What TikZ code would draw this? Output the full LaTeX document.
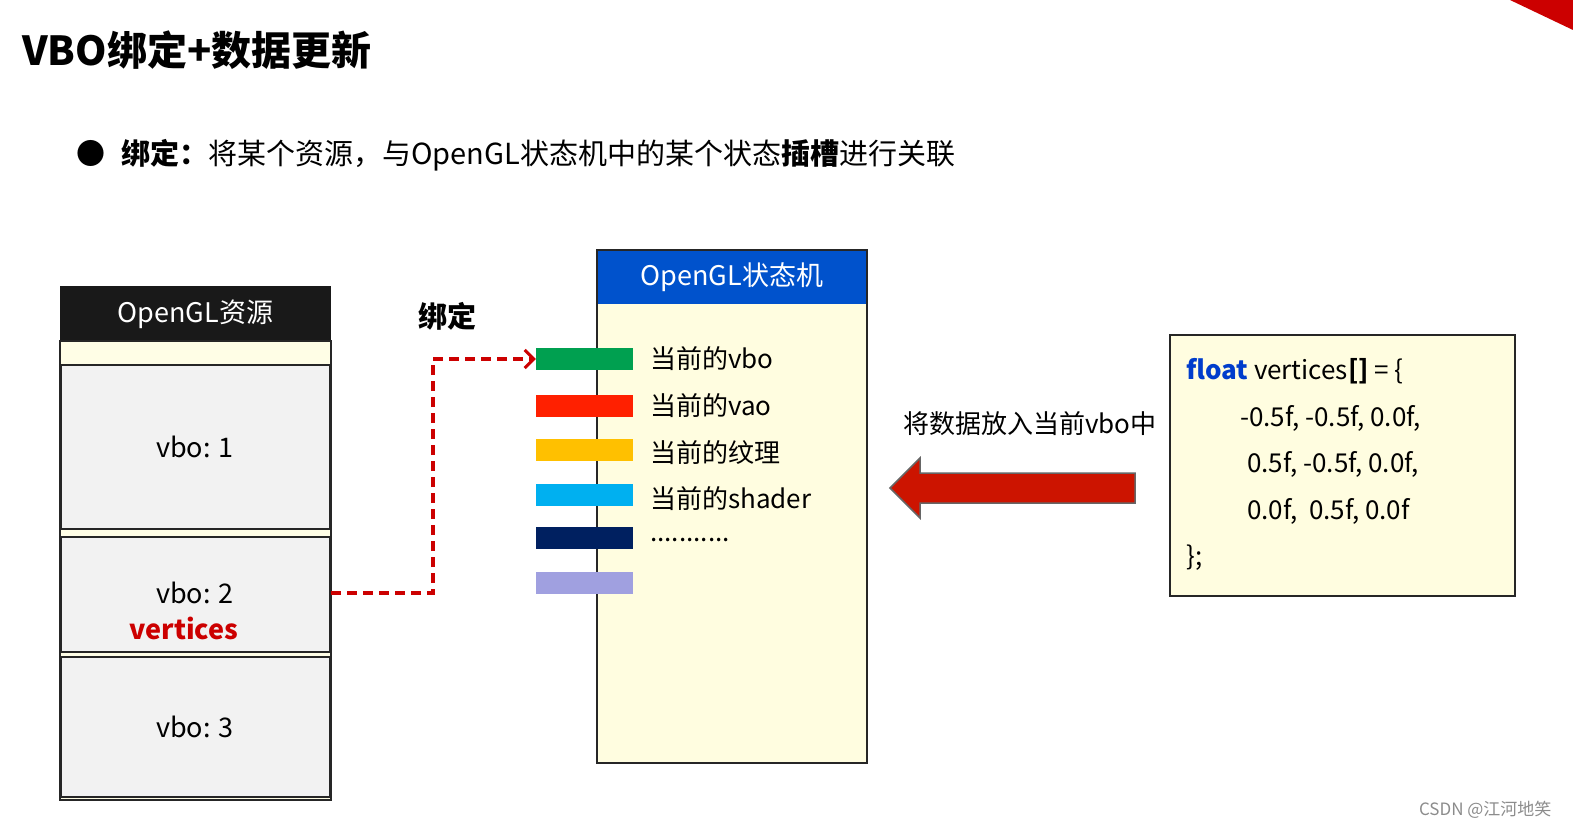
\documentclass[tikz,border=0pt]{standalone}
\usepackage{fontspec}
\usetikzlibrary{arrows.meta}
\setmainfont{Noto Sans CJK SC}
\begin{document}
\begin{tikzpicture}[x=1pt,y=-1pt,
  fs/.style={font=\fontsize{#1}{#1}\selectfont},
  cell/.style={draw=black!85,line width=1.5pt,fill=black!5},
  bar/.style={minimum width=97pt,minimum height=22pt,inner sep=0pt},
  lbl/.style={fs=26,anchor=west,inner sep=0pt},
  code/.style={fs=26,anchor=west,inner sep=0pt}]
\useasboundingbox (0,0) rectangle (1573,832);
\fill[white] (0,0) rectangle (1573,832);
\fill[red!80!black] (1510,0) -- (1573,0) -- (1573,30) -- cycle;
\node[font=\bfseries\fontsize{40}{40}\selectfont,anchor=west,inner sep=0pt] (title) at (22,50) {VBO绑定+数据更新};
\node[fs=29,anchor=west,inner sep=0pt] (bul) at (76,155) {●\hspace{16pt}\textbf{绑定：}将某个资源，与OpenGL状态机中的某个状态\textbf{插槽}进行关联};
% left box
\fill[black!90] (60,286) rectangle (331,341);
\node[fs=27,text=white] (reshead) at (195.5,314) {OpenGL资源};
\draw[black!85,line width=1.5pt,fill=yellow!10] (60,341) rectangle (331,800);
\draw[cell] (61,365) rectangle (330,529);
\draw[cell] (61,537) rectangle (330,652);
\draw[cell] (61,657) rectangle (330,797);
\node[fs=27] (v1) at (195,447) {vbo: 1};
\node[fs=27] (v2) at (195,593) {vbo: 2};
\node[text=red!80!black,font=\bfseries\fontsize{27}{27}\selectfont] (vert) at (184,628) {vertices};
\node[fs=27] (v3) at (195,727) {vbo: 3};
\coordinate (v2r) at (331,593);
\node[font=\bfseries\fontsize{29}{29}\selectfont] (bd) at (447,316) {绑定};
% state box
\draw[black!85,line width=1.5pt,fill=yellow!12] (597,250) rectangle (867,763);
\fill[blue!60!cyan!80!black] (598,251) rectangle (866,304);
\draw[black!85,line width=1.5pt] (597,250) rectangle (867,763);
\node[fs=27,text=white] (sthead) at (732,277) {OpenGL状态机};
\node[bar,fill={rgb,255:red,0;green,160;blue,80}] (b1) at (584.5,359) {};
\node[bar,fill={rgb,255:red,255;green,32;blue,0}] (b2) at (584.5,406) {};
\node[bar,fill={rgb,255:red,255;green,192;blue,0}] (b3) at (584.5,450) {};
\node[bar,fill={rgb,255:red,0;green,176;blue,240}] (b4) at (584.5,495) {};
\node[bar,fill={rgb,255:red,0;green,32;blue,96}] (b5) at (584.5,538) {};
\node[bar,fill={rgb,255:red,160;green,160;blue,224}] (b6) at (584.5,583) {};
\node[lbl] (l1) at (650,359) {当前的vbo};
\node[lbl] (l2) at (650,406) {当前的vao};
\node[lbl] (l3) at (650,453) {当前的纹理};
\node[lbl] (l4) at (650,499) {当前的shader};
\node[lbl] (l5) at (650,540) {...........};
\draw[red!80!black,line width=3.5pt,dash pattern=on 10pt off 6pt,-{Straight Barb[length=9pt,width=18pt,line width=3pt]}] (v2r) -- (433,593) -- (433,359) -- (b1.west);
% arrow
\node[fs=26] (put) at (1030,424) {将数据放入当前vbo中};
\draw[black!60,line width=1.5pt,fill={rgb,255:red,204;green,20;blue,0}] (1135,473) -- (920,473) -- (920,458) -- (890,488) -- (920,518) -- (920,503) -- (1135,503) -- cycle;
% code
\draw[black!85,line width=1.5pt,fill=yellow!12] (1170,335) rectangle (1515,596);
\node[code] (c1) at (1186,371) {\textcolor{blue!70!cyan!80!black}{\textbf{float}} vertices\textbf{[]} = \{};
\node[code] (c2) at (1240,418) {-0.5f, -0.5f, 0.0f,};
\node[code] (c3) at (1247,464) {0.5f, -0.5f, 0.0f,};
\node[code] (c4) at (1247,511) {0.0f,\ \ 0.5f, 0.0f};
\node[code] (c5) at (1186,558) {\};};
\node[fs=17,text=black!45,anchor=east] (wm) at (1555,810) {CSDN @江河地笑};
\end{tikzpicture}
\end{document}
